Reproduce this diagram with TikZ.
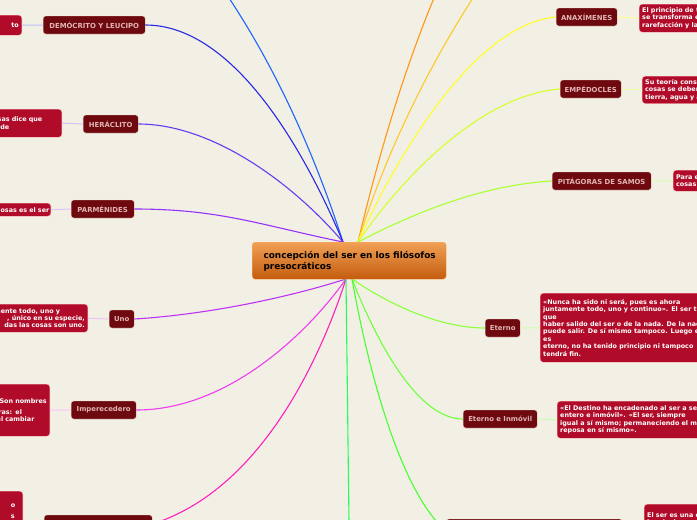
\documentclass[tikz,border=0pt]{standalone}
\usepackage{fontspec}
\setmainfont{DejaVu Sans}
\definecolor{bg}{RGB}{242,240,228}
\definecolor{ctop}{RGB}{240,160,85}
\definecolor{cbot}{RGB}{196,92,14}
\definecolor{c1}{RGB}{30,100,255}
\definecolor{c2}{RGB}{40,40,230}
\definecolor{c3}{RGB}{100,60,240}
\definecolor{c4}{RGB}{150,50,250}
\definecolor{c5}{RGB}{190,50,245}
\definecolor{c6}{RGB}{240,60,240}
\definecolor{c7}{RGB}{255,30,190}
\definecolor{c8}{RGB}{255,150,20}
\definecolor{c9}{RGB}{255,200,40}
\definecolor{c10}{RGB}{255,255,40}
\definecolor{c11}{RGB}{215,255,40}
\definecolor{c12}{RGB}{170,255,50}
\definecolor{c13}{RGB}{140,255,60}
\definecolor{c14}{RGB}{110,255,60}
\definecolor{c15}{RGB}{70,255,50}
\definecolor{c16}{RGB}{30,255,90}
\definecolor{darkn}{RGB}{110,10,15}
\definecolor{redn}{RGB}{176,12,42}
\definecolor{dtext}{RGB}{225,180,180}
\begin{document}
\begin{tikzpicture}[x=1pt,y=-1pt,
  dark/.style={draw=white!70!brown,fill=darkn,rounded corners=2.5pt,text=dtext,font=\bfseries\fontsize{6.9}{8}\selectfont,inner sep=0pt,minimum height=18pt,anchor=west},
  redb/.style={draw=white!70!red,fill=redn,rounded corners=3pt,text=white,font=\bfseries\fontsize{6.4}{7.4}\selectfont,inner sep=3pt,align=left,anchor=north west},
  redl/.style={redb,anchor=north east,align=right},
  br/.style={line width=1.1pt},
  lk/.style={line width=1pt},
  cbox/.style={top color=ctop,bottom color=cbot,rounded corners=3pt,draw=orange!60,minimum width=194pt,minimum height=37pt,anchor=north west,inner sep=0pt},
  ctext/.style={anchor=west,align=left,font=\bfseries\fontsize{8.9}{11}\selectfont}]
\fill[bg] (0,0) rectangle (697,520);
\clip (0,0) rectangle (697,520);
\useasboundingbox (0,0) rectangle (697,520);
% dark nodes
\node[dark,minimum width=102pt] (dem) at (43,25) {DEMÓCRITO Y LEUCIPO};
\node[dark,minimum width=55pt] (her) at (83,124) {HERÁCLITO};
\node[dark,minimum width=63pt] (par) at (71,209) {PARMÉNIDES};
\node[dark,minimum width=25pt] (uno) at (109,319) {Uno};
\node[dark,minimum width=65pt] (imp) at (71,410) {Imperecedero};
\node[dark,minimum width=108pt] (bl) at (44,524) {};
\node[dark,minimum width=61pt] (anx) at (556,17) {ANAXÍMENES};
\node[dark,minimum width=61pt] (emp) at (560,89) {EMPÉDOCLES};
\node[dark,minimum width=99pt] (pit) at (552,181) {PITÁGORAS DE SAMOS};
\node[dark,minimum width=35pt] (ete) at (485,328) {Eterno};
\node[dark,minimum width=74pt] (inm) at (463,419) {Eterno e Inmóvil};
\node[dark,minimum width=176pt] (br) at (446,528) {};
% red boxes (left, cut)
\node[redl,minimum height=20pt,text width=40pt] (rdem) at (22,15) {to\\[5pt]};
\node[redl,minimum height=28pt,text width=80pt] (rher) at (62,109) {cosas dice que\hphantom{xxxx}\\ucha de\hphantom{xxxxxxxxxxxx}\\[4pt]};
\node[redl,minimum height=13pt,inner sep=1.5pt,text width=70pt] (rpar) at (51,203) {osas es el ser};
\node[redl,minimum height=28pt,text width=100pt] (runo) at (88,304) {tamente todo, uno y\hphantom{xxxxxx}\\, único en su especie,\\das las cosas son uno.};
\node[redl,minimum height=52pt,text width=70pt] (rimp) at (50,384) {Son nombres\\[3pt] aderas: el\hphantom{xxxxxx}\\el cambiar\hphantom{xxx}\\[12pt]};
\node[redl,minimum height=40pt,text width=40pt,align=left] (rbl) at (23,491) {\hspace*{31pt}o\\[4pt]\hspace*{31pt}s\\[20pt]};
% red boxes (right, cut)
\node[redb,minimum height=28pt] (ranx) at (639,4) {El principio de todo\\se transforma en aire\\rarefacción y la condensación};
\node[redb,minimum height=27pt] (remp) at (642,76) {Su teoría consiste en\\cosas se deben a\\tierra, agua y aire};
\node[redb,minimum height=21pt] (rpit) at (673,170) {Para explicar\\cosas};
\node[redb,minimum height=69pt] (rete) at (540,293) {«Nunca ha sido ni será, pues es ahora\\juntamente todo, uno y continuo». El ser tiene\\que\\haber salido del ser o de la nada. De la nada no\\puede salir. De sí mismo tampoco. Luego el ser\\es\\eterno, no ha tenido principio ni tampoco\\tendrá fin.};
\node[redb,minimum height=37pt] (rinm) at (557,401) {«El Destino ha encadenado al ser a ser\\entero e inmóvil». «El ser, siempre\\igual a sí mismo; permaneciendo el mismo\\reposa en sí mismo».};
\node[redb,minimum height=30pt] (rbr) at (644,504) {El ser es una esfera\\igual y homogénea};
% links
\draw[lk,c2!30] (dem.west) -- (rdem.east);
\draw[lk,c3!30] (her.west) -- (rher.east);
\draw[lk,c4!30] (par.west) -- (rpar.east);
\draw[lk,c5!30] (uno.west) -- (runo.east);
\draw[lk,c6!30] (imp.west) -- (rimp.east);
\draw[lk,c10!50] (anx.east) -- (ranx.west);
\draw[lk,c11!40] (emp.east) -- (remp.west);
\draw[lk,c12!40] (pit.east) -- (rpit.west);
\draw[lk,c13!40] (ete.east) -- (rete.west);
\draw[lk,c14!40] (inm.east) -- (rinm.west);
% branches
\coordinate (t1) at (343,242); \coordinate (t2) at (358,242);
\coordinate (b1) at (346,279); \coordinate (b2) at (352,279);
\coordinate (topA) at (229,-2); \coordinate (topB) at (434,-2); \coordinate (topC) at (473,-2);
\coordinate (botG) at (349,522); \coordinate (botH) at (437,522);
\draw[br,c1] (t1) .. controls (310,140) and (270,60) .. (topA);
\draw[br,c2] (t1) .. controls (300,140) and (230,25) .. (dem.east);
\draw[br,c3] (t1) .. controls (290,180) and (210,124) .. (her.east);
\draw[br,c4] (t1) .. controls (260,225) and (220,209) .. (par.east);
\draw[br,c5] (b1) .. controls (280,300) and (200,315) .. (uno.east);
\draw[br,c6] (b1) .. controls (310,330) and (230,410) .. (imp.east);
\draw[br,c7] (b1) .. controls (320,360) and (260,490) .. (bl.east);
\draw[br,c8] (t2) .. controls (375,170) and (400,80) .. (topB);
\draw[br,c9] (t2) .. controls (380,170) and (420,80) .. (topC);
\draw[br,c10] (t2) .. controls (390,170) and (470,25) .. (anx.west);
\draw[br,c11] (t2) .. controls (400,180) and (480,95) .. (emp.west);
\draw[br,c12] (t2) .. controls (410,215) and (480,185) .. (pit.west);
\draw[br,c13] (b2) .. controls (390,305) and (440,328) .. (ete.west);
\draw[br,c14] (b2) .. controls (380,350) and (420,419) .. (inm.west);
\draw[br,c15] (b2) .. controls (370,380) and (400,480) .. (botH);
\draw[br,c16] (b1) -- (botG);
% centre on top
\node[cbox] (c) at (252,242) {};
\node[ctext] (ct) at (260,261) {concepción del ser en los filósofos\\presocráticos};
\end{tikzpicture}
\end{document}
